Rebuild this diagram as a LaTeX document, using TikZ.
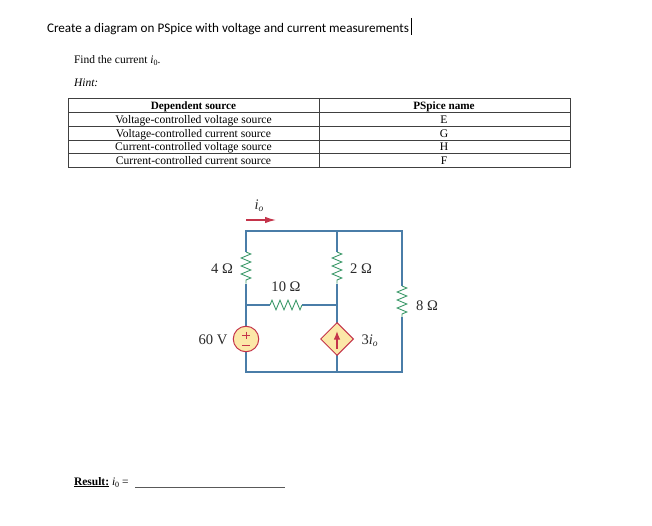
\documentclass[tikz,border=0pt]{standalone}
\usepackage{fontspec}
\setmainfont{Liberation Serif}
\newfontfamily\uifont{Carlito}
\usetikzlibrary{decorations.pathmorphing,shapes.geometric,arrows.meta}
\definecolor{wire}{HTML}{4A7DA8}
\definecolor{resgreen}{HTML}{3F9B6C}
\definecolor{srcred}{HTML}{C4344A}
\definecolor{srcfill}{HTML}{FCE8A8}
\definecolor{inkgrey}{HTML}{2A2A2A}
\tikzset{
  txt/.style={inner sep=0pt,outer sep=0pt,anchor=base west,text=black},
  cell/.style={inner sep=0pt,outer sep=0pt,anchor=base,font=\fontsize{11.6}{13}\selectfont,text=black},
  cellhead/.style={cell,font=\bfseries\fontsize{11.2}{13}\selectfont},
  clabel/.style={inner sep=0pt,outer sep=0pt,anchor=base,font=\fontsize{14.6}{16}\selectfont,text=inkgrey},
  wireline/.style={draw=wire,line width=1.1pt},
  resistor/.style={draw=resgreen,line width=0.9pt,decorate,decoration={zigzag,segment length=8pt,amplitude=4.8pt}},
  tableline/.style={draw=black!75,line width=0.8pt},
  redline/.style={draw=srcred,line width=1pt},
  redarrow/.style={draw=srcred,line width=1.3pt,-{Latex[length=11pt,width=6.5pt]}},
  srcarrow/.style={draw=srcred,line width=1.3pt,-{Latex[length=8.5pt,width=6.5pt]}}
}
\begin{document}
\begin{tikzpicture}[x=1pt,y=-1pt]
\useasboundingbox (0,0) rectangle (652,526);
\fill[white] (0,0) rectangle (652,526);
% header text
\node[txt,font=\uifont\fontsize{13.15}{15}\selectfont] (title) at (47,33) {Create a diagram on PSpice with voltage and current measurements};
\coordinate (curT) at (411,18);
\coordinate (curB) at (411,35);
\draw[black,line width=0.9pt] (curT) -- (curB);
\node[txt,font=\fontsize{11.5}{13}\selectfont] (find) at (74,64) {Find the current \textit{i}\raisebox{-2pt}{\fontsize{8}{9}\selectfont 0}.};
\node[txt,font=\itshape\fontsize{11.5}{13}\selectfont] (hint) at (74,87) {Hint:};
% table
\draw[tableline] (68,98) rectangle (570,167);
\foreach \yy in {112.7,126.3,140,153.7} \draw[tableline] (68,\yy) -- (570,\yy);
\draw[tableline] (319,98) -- (319,167);
\node[cellhead] (h1) at (193.5,109.5) {Dependent source};
\node[cellhead] (h2) at (444,109.5) {PSpice name};
\node[cell] (r1) at (193.5,123.5) {Voltage-controlled voltage source};
\node[cell] (r2) at (193.5,137.2) {Voltage-controlled current source};
\node[cell] (r3) at (193.5,150.9) {Current-controlled voltage source};
\node[cell] (r4) at (193.5,164.5) {Current-controlled current source};
\node[cell] (e1) at (444,123.5) {E};
\node[cell] (e2) at (444,137.2) {G};
\node[cell] (e3) at (444,150.9) {H};
\node[cell] (e4) at (444,164.5) {F};
% circuit nodes
\coordinate (TL) at (246,231);
\coordinate (TM) at (337,231);
\coordinate (TR) at (402,231);
\coordinate (BL) at (246,372);
\coordinate (BM) at (337,372);
\coordinate (BR) at (402,372);
\coordinate (ML) at (246,305);
\coordinate (MM) at (337,305);
\coordinate (R4a) at (246,252); \coordinate (R4b) at (246,283.5);
\coordinate (R2a) at (337,252); \coordinate (R2b) at (337,283.5);
\coordinate (R8a) at (402,286); \coordinate (R8b) at (402,317);
\coordinate (R10a) at (270,305); \coordinate (R10b) at (302,305);
% wires
\draw[wireline] (R4a) -- (TL) -- (TR) -- (R8a);
\draw[wireline] (R8b) -- (BR) -- (BL) -- (ML) -- (R4b);
\draw[wireline] (TM) -- (R2a);
\draw[wireline] (R2b) -- (BM);
\draw[wireline] (ML) -- (R10a);
\draw[wireline] (R10b) -- (MM);
% resistors
\draw[resistor] (R4a) -- (R4b);
\draw[resistor] (R2a) -- (R2b);
\draw[resistor] (R8a) -- (R8b);
\draw[resistor] (R10a) -- (R10b);
% voltage source
\node[circle,draw=srcred,fill=srcfill,line width=1pt,minimum size=25.5pt,inner sep=0pt] (vs) at (246,339) {};
\coordinate (pa) at (246,331.5); \coordinate (pb) at (246,338.5);
\coordinate (pc) at (242,335); \coordinate (pd) at (250,335);
\coordinate (ma) at (242,345); \coordinate (mb) at (250,345);
\draw[redline] (pa) -- (pb);
\draw[redline] (pc) -- (pd);
\draw[redline] (ma) -- (mb);
% dependent source
\node[diamond,aspect=1,draw=srcred,fill=srcfill,line width=1pt,minimum size=33pt,inner sep=0pt] (cs) at (337,339) {};
\coordinate (csb) at (337,349);
\coordinate (cst) at (337,331);
\draw[srcarrow] (csb) -- (cst);
% current arrow
\coordinate (ia) at (246,220);
\coordinate (ib) at (276,220);
\draw[redarrow] (ia) -- (ib);
% circuit labels
\node[clabel] (lio) at (259,209.5) {\textit{i\raisebox{-2pt}{\fontsize{9.5}{10}\selectfont o}}};
\node[clabel] (l4) at (222,273) {4 Ω};
\node[clabel] (l2) at (361,273) {2 Ω};
\node[clabel] (l10) at (286,291.5) {10 Ω};
\node[clabel] (l8) at (427,310) {8 Ω};
\node[clabel] (l60) at (213,344) {60 V};
\node[clabel,anchor=base west] (l3) at (361.5,344) {3\textit{i\raisebox{-2pt}{\fontsize{9.5}{10}\selectfont o}}};
% result
\node[txt,font=\fontsize{11.5}{13}\selectfont] (res) at (74,485) {\underline{\textbf{Result:}} \textit{i}\raisebox{-2pt}{\fontsize{8}{9}\selectfont 0} =};
\coordinate (ula) at (135,487);
\coordinate (ulb) at (285,487);
\draw[black!65,line width=0.8pt] (ula) -- (ulb);
\end{tikzpicture}
\end{document}
